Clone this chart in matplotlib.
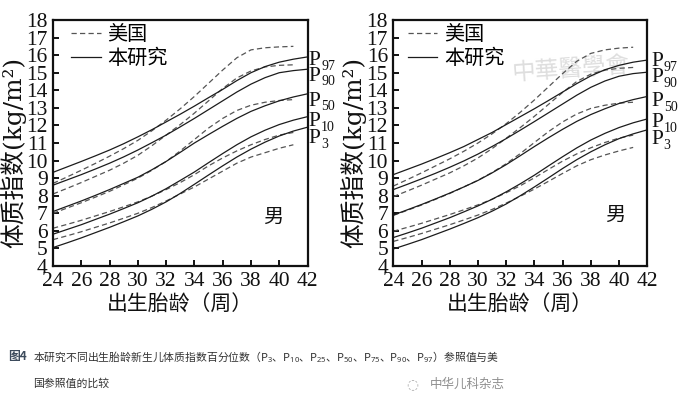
import matplotlib
matplotlib.use('Agg')
import matplotlib.pyplot as plt
from matplotlib.lines import Line2D

plt.rcParams['font.family'] = ['Liberation Serif', 'Noto Sans CJK SC']
plt.rcParams['mathtext.fontset'] = 'custom'
plt.rcParams['mathtext.rm'] = 'Liberation Serif'
plt.rcParams['mathtext.sf'] = 'Noto Sans'

# ---------------- data ----------------
weeks = list(range(24, 43))
us_weeks = list(range(24, 42))
x_ticks = list(range(24, 43, 2))
y_ticks = list(range(4, 19))
pct_subs = ['97', '90', '50', '10', '3']

# left panel, this study (solid)
L_P97 = [9.33, 9.64, 9.95, 10.27, 10.6, 10.96, 11.35, 11.76, 12.2, 12.64, 13.1, 13.58, 14.05, 14.55, 15.0, 15.35, 15.6, 15.77, 15.9]
L_P90 = [8.6, 8.9, 9.2, 9.52, 9.85, 10.21, 10.6, 11.02, 11.45, 11.92, 12.4, 12.9, 13.4, 13.9, 14.35, 14.72, 15.0, 15.12, 15.2]
L_P50 = [7.1, 7.4, 7.7, 8.02, 8.35, 8.7, 9.05, 9.48, 9.95, 10.47, 11.0, 11.48, 11.95, 12.4, 12.8, 13.12, 13.4, 13.62, 13.8]
L_P10 = [5.81, 6.08, 6.35, 6.65, 6.95, 7.27, 7.6, 7.98, 8.4, 8.87, 9.35, 9.88, 10.4, 10.9, 11.35, 11.73, 12.05, 12.3, 12.5]
L_P3 = [5.05, 5.32, 5.6, 5.9, 6.2, 6.52, 6.85, 7.23, 7.65, 8.13, 8.65, 9.18, 9.7, 10.2, 10.65, 11.05, 11.4, 11.68, 11.9]
# left panel, US reference (dashed)
L_US97 = [8.7, 9.07, 9.45, 9.84, 10.25, 10.68, 11.15, 11.7, 12.3, 12.95, 13.65, 14.4, 15.15, 15.85, 16.3, 16.42, 16.47, 16.5]
L_US90 = [8.1, 8.42, 8.75, 9.1, 9.45, 9.85, 10.3, 10.85, 11.45, 12.05, 12.7, 13.4, 14.1, 14.7, 15.1, 15.33, 15.42, 15.45]
L_US50 = [7.0, 7.3, 7.6, 7.92, 8.25, 8.62, 9.0, 9.45, 9.95, 10.55, 11.2, 11.85, 12.4, 12.85, 13.15, 13.32, 13.42, 13.47]
L_US10 = [6.15, 6.37, 6.6, 6.85, 7.1, 7.37, 7.65, 7.98, 8.35, 8.75, 9.2, 9.7, 10.15, 10.55, 10.9, 11.2, 11.45, 11.6]
L_US3 = [5.5, 5.72, 5.95, 6.2, 6.45, 6.72, 7.0, 7.33, 7.7, 8.1, 8.5, 8.95, 9.4, 9.85, 10.2, 10.45, 10.7, 10.9]

# right panel, this study (solid)
R_P97 = [9.2, 9.5, 9.8, 10.12, 10.45, 10.8, 11.2, 11.6, 12.05, 12.5, 12.95, 13.42, 13.9, 14.38, 14.82, 15.17, 15.42, 15.6, 15.72]
R_P90 = [8.35, 8.65, 8.96, 9.28, 9.62, 9.98, 10.37, 10.8, 11.25, 11.73, 12.22, 12.72, 13.22, 13.72, 14.17, 14.53, 14.8, 14.95, 15.03]
R_P50 = [6.9, 7.2, 7.5, 7.82, 8.15, 8.5, 8.87, 9.3, 9.77, 10.28, 10.8, 11.3, 11.78, 12.23, 12.62, 12.95, 13.25, 13.47, 13.65]
R_P10 = [5.62, 5.88, 6.15, 6.45, 6.75, 7.08, 7.42, 7.8, 8.22, 8.68, 9.17, 9.7, 10.22, 10.72, 11.17, 11.55, 11.88, 12.15, 12.37]
R_P3 = [4.97, 5.23, 5.5, 5.8, 6.1, 6.42, 6.75, 7.12, 7.53, 8.0, 8.5, 9.02, 9.55, 10.05, 10.5, 10.9, 11.25, 11.52, 11.75]
# right panel, US reference (dashed)
R_US97 = [8.55, 8.92, 9.3, 9.7, 10.1, 10.53, 11.0, 11.52, 12.1, 12.75, 13.45, 14.2, 14.95, 15.65, 16.1, 16.3, 16.4, 16.45]
R_US90 = [7.95, 8.27, 8.6, 8.95, 9.3, 9.7, 10.15, 10.68, 11.27, 11.88, 12.52, 13.2, 13.88, 14.5, 14.92, 15.15, 15.25, 15.3]
R_US50 = [6.88, 7.17, 7.47, 7.8, 8.13, 8.5, 8.88, 9.32, 9.82, 10.4, 11.03, 11.65, 12.2, 12.65, 12.97, 13.15, 13.27, 13.32]
R_US10 = [5.98, 6.2, 6.43, 6.68, 6.93, 7.2, 7.48, 7.8, 8.17, 8.57, 9.02, 9.5, 9.97, 10.38, 10.73, 11.03, 11.28, 11.45]
R_US3 = [5.4, 5.62, 5.85, 6.1, 6.35, 6.62, 6.9, 7.22, 7.58, 7.97, 8.38, 8.82, 9.27, 9.7, 10.05, 10.32, 10.55, 10.75]

# baselines (data y) of the percentile tags
L_tag_y = [15.45, 14.55, 13.12, 11.98, 11.0]
R_tag_y = [15.37, 14.48, 13.08, 11.9, 10.95]

CJK = ['Noto Sans CJK SC']
SOLID_C = '#1c1c1c'
DASH_C = '#555555'
DASH = (0, (4.2, 2.6))
INK = '#111111'

fig = plt.figure(figsize=(6.82, 4.15), dpi=100)


def draw_panel(ax, study, us, tag_y, tag_x, boy_xy, leg_anchor, watermark=False):
    for ys in us:
        ax.plot(us_weeks, ys, color=DASH_C, lw=0.9, linestyle=DASH)
    for ys in study:
        ax.plot(weeks, ys, color=SOLID_C, lw=0.9)
    ax.set_xlim(24, 42)
    ax.set_ylim(4, 18)
    ax.set_xticks(x_ticks)
    ax.set_yticks(y_ticks)
    ax.tick_params(direction='in', length=4, width=1.4, labelsize=15.5, colors=INK)
    ax.tick_params(axis='y', pad=3.8)
    ax.tick_params(axis='x', pad=4.5)
    for lbl in ax.get_xticklabels() + ax.get_yticklabels():
        lbl.set_fontfamily('Liberation Serif')
    for s in ax.spines.values():
        s.set_linewidth(1.6)
        s.set_color(INK)
    ax.set_xlabel('出生胎龄（周）', fontsize=15, family=CJK, labelpad=2, color=INK)
    ax.set_ylabel('体质指数(kg/m²)', fontsize=17.8, family=['DejaVu Serif', 'Noto Sans CJK SC'],
                  color=INK)
    ax.yaxis.set_label_coords(-0.106, 0.462)
    for sub, y in zip(pct_subs, tag_y):
        ax.text(tag_x, y, 'P', fontsize=15.5, va='baseline', ha='left', clip_on=False,
                color=INK, family='Liberation Serif')
        ax.annotate(sub, xy=(tag_x, y), xytext=(9.0, -3.4), textcoords='offset points',
                    fontsize=10, va='baseline', ha='left', annotation_clip=False,
                    color=INK, family='Liberation Serif')
    ax.text(boy_xy[0], boy_xy[1], '男', fontsize=14.5, family=CJK, ha='center', va='center',
            color=INK)
    handles = [Line2D([], [], color=DASH_C, lw=0.9, linestyle=DASH),
               Line2D([], [], color=SOLID_C, lw=0.9)]
    ax.legend(handles, ['美国', '本研究'], loc='upper left', bbox_to_anchor=leg_anchor,
              frameon=False, prop={'family': CJK, 'size': 14.5}, handlelength=1.45,
              handletextpad=0.35, labelspacing=0.15, borderpad=0, borderaxespad=0)
    if watermark:
        ax.text(36.6, 15.2, '中華醫學會', fontsize=17, family=CJK, color='#dedede',
                ha='center', va='center', rotation=4, zorder=0)


ax1 = fig.add_axes([0.0777, 0.359, 0.3732, 0.5928])
ax2 = fig.add_axes([0.5767, 0.359, 0.3724, 0.5928])

draw_panel(ax1, [L_P97, L_P90, L_P50, L_P10, L_P3], [L_US97, L_US90, L_US50, L_US10, L_US3],
           L_tag_y, 42.08, (39.6, 6.75), (0.072, 0.985))
draw_panel(ax2, [R_P97, R_P90, R_P50, R_P10, R_P3], [R_US97, R_US90, R_US50, R_US10, R_US3],
           R_tag_y, 42.28, (39.7, 6.9), (0.058, 0.985), watermark=True)

# caption
fig.text(0.0117, 0.14, '图4', fontsize=8.5, family=CJK, weight='bold', color='#3d4b5c',
         va='center', ha='left')
fig.text(0.0484, 0.14,
         '本研究不同出生胎龄新生儿体质指数百分位数（P$_\\mathsf{3}$、P$_\\mathsf{10}$、P$_\\mathsf{25}$、'
         'P$_\\mathsf{50}$、P$_\\mathsf{75}$、P$_\\mathsf{90}$、P$_\\mathsf{97}$）参照值与美',
         fontsize=7.8, family=CJK, color='#333333', va='center', ha='left')
fig.text(0.0484, 0.075, '国参照值的比较', fontsize=7.8, family=CJK, color='#333333',
         va='center', ha='left')
fig.text(0.63, 0.075, '中华儿科杂志', fontsize=9, family=CJK, color='#8f8f8f',
         va='center', ha='left')
fig.text(0.605, 0.075, '◌', fontsize=10, family=['DejaVu Sans'], color='#aaaaaa',
         va='center', ha='center')

fig.savefig('out.png', dpi=100)
